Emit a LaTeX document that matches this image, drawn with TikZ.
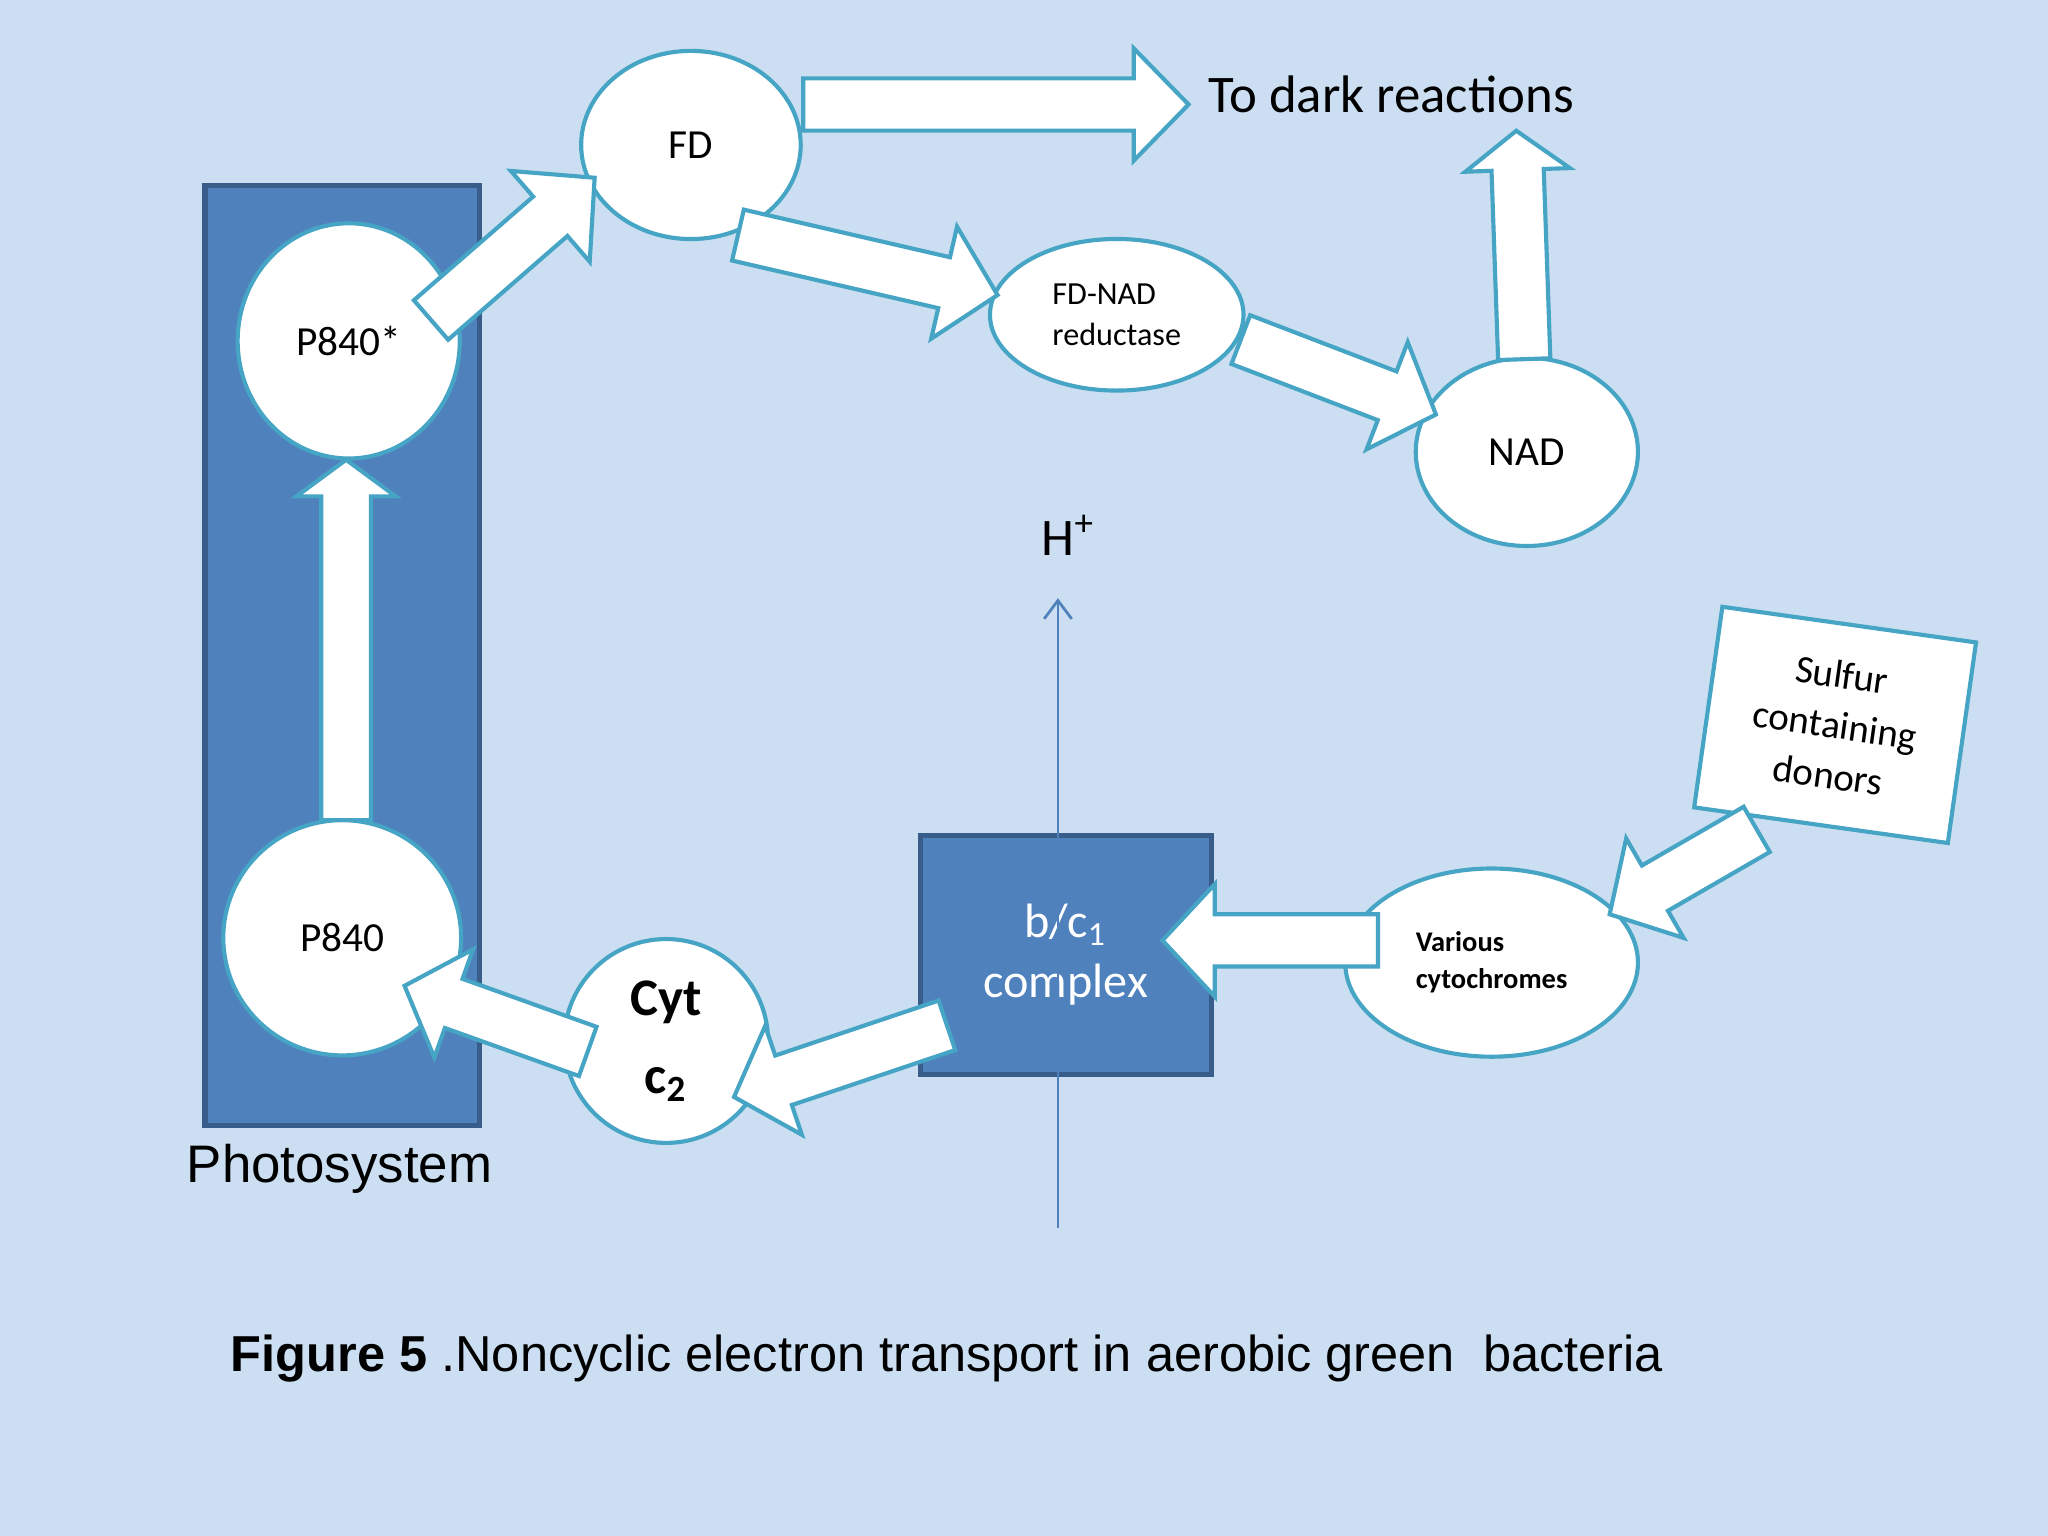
\documentclass[tikz,border=0pt]{standalone}
\usepackage{fontspec}
\setmainfont{Carlito}
\newfontfamily\arialf{Liberation Sans}
\usetikzlibrary{shapes.geometric,arrows.meta}
\definecolor{bg}{HTML}{CCDFF2}
\definecolor{psblue}{HTML}{4F81BD}
\definecolor{psedge}{HTML}{385D8A}
\definecolor{teal}{HTML}{46A4C4}
\tikzset{
 arr/.style={draw=teal,fill=white,line width=0.9pt,line join=miter},
 ell/.style={ellipse,draw=teal,fill=white,line width=0.9pt,inner sep=0pt},
 bluebox/.style={rectangle,draw=psedge,fill=psblue,line width=1.1pt,inner sep=0pt},
}
\newcommand\barrow[7]{%
 \draw[arr,shift={(#1,#2)},rotate=#3] (0,-#5/2) -- (#4-#7,-#5/2) -- (#4-#7,-#6/2) -- (#4,0) -- (#4-#7,#6/2) -- (#4-#7,#5/2) -- (0,#5/2) -- cycle;}
\begin{document}
\begin{tikzpicture}[x=0.01cm,y=-0.01cm]
\fill[bg] (0,0) rectangle (1568,1176);
\useasboundingbox (0,0) rectangle (1568,1176);
% photosystem
\node[bluebox,minimum width=2.1cm,minimum height=7.19cm] (ps) at (262,502) {};
\node[font=\arialf\fontsize{11.5}{13}\selectfont] (pslab) at (260,895) {Photosystem};
% P840 -> P840*
\barrow{265}{628}{90}{276}{38}{76}{28}
\node[ell,minimum width=1.7cm,minimum height=1.8cm,font=\fontsize{9}{10}\selectfont] (p840s) at (267,261) {P840*};
\node[ell,minimum width=1.82cm,minimum height=1.8cm,font=\fontsize{9}{10}\selectfont] (p840) at (262,718) {P840};
\node[ell,minimum width=1.68cm,minimum height=1.44cm,font=\fontsize{9}{10}\selectfont] (fd) at (529,111) {FD};
\node[ell,minimum width=1.94cm,minimum height=1.16cm,font=\fontsize{7}{9}\selectfont,align=left] (fdnad) at (855,241) {FD-NAD\\reductase};
\node[ell,minimum width=1.7cm,minimum height=1.44cm,font=\fontsize{9}{10}\selectfont] (nad) at (1169,346) {NAD};
\node[ell,minimum width=1.56cm,minimum height=1.56cm,font=\bfseries\fontsize{11.5}{17}\selectfont,align=center] (cyt) at (510,797) {Cyt\\c\textsubscript{2}};
\node[bluebox,minimum width=2.23cm,minimum height=1.83cm,text=white,font=\fontsize{10.5}{13}\selectfont,align=center] (bc) at (816,731) {b/c\textsubscript{1}\\complex};
\node[ell,minimum width=2.24cm,minimum height=1.44cm,font=\bfseries\fontsize{6.2}{8}\selectfont,align=left] (var) at (1142,737) {Various\\cytochromes};
\node[rectangle,draw=teal,fill=white,line width=0.9pt,minimum width=1.96cm,minimum height=1.55cm,rotate=-8,font=\fontsize{8.5}{11}\selectfont,align=center] (sulf) at (1405,555) {Sulfur\\containing\\donors};
% H+ line
\coordinate (hbot) at (810,940);
\coordinate (htop) at (810,458);
\draw[psblue,line width=0.6pt,-{Straight Barb[length=4pt,width=6pt]}] (hbot) -- (htop);
\node[font=\fontsize{11.5}{13}\selectfont] (hplus) at (818,410) {H\textsuperscript{+}};
% arrows
\barrow{330}{245}{41}{166}{40}{92}{45}
\barrow{615}{80}{0}{295}{40}{86}{42}
\barrow{565}{180}{-13}{204}{40}{88}{42}
\barrow{950}{260}{-21}{160}{40}{88}{40}
\barrow{1167}{275}{92}{175}{40}{80}{30}
\barrow{1345}{635}{210}{130}{40}{88}{40}
\barrow{1055}{720}{180}{165}{40}{86}{40}
\barrow{725}{785}{198.6}{172}{40}{88}{40}
\barrow{450}{805}{160.3}{149}{40}{88}{40}
\node[font=\fontsize{11.5}{13}\selectfont] (dark) at (1065,72) {To dark reactions};
\node[font=\arialf\fontsize{11}{13}\selectfont] (cap) at (725,1040) {\textbf{Figure 5} .Noncyclic electron transport in aerobic green\ \ bacteria};
\end{tikzpicture}
\end{document}
